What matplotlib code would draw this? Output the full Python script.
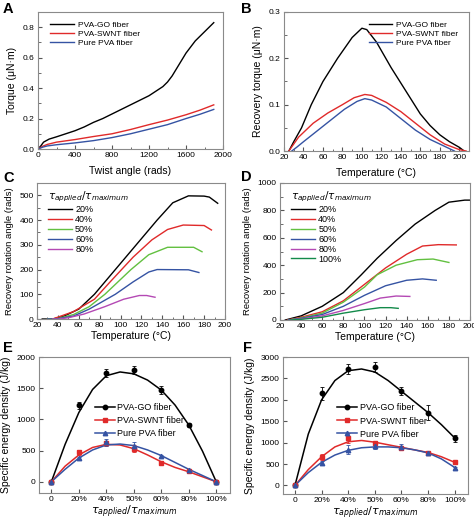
import matplotlib
matplotlib.use('Agg')
import matplotlib.pyplot as plt
from matplotlib.ticker import MultipleLocator

plt.rcParams['font.family'] = ['Liberation Sans Narrow', 'Liberation Sans', 'DejaVu Sans']
plt.rcParams['mathtext.fontset'] = 'dejavusans'

# ---- data: panel A (torque vs twist angle) ----
a_go_x = [0, 30, 60, 120, 200, 300, 400, 500, 600, 700, 800, 900, 1000, 1100, 1200, 1300, 1350, 1400, 1450, 1500, 1550, 1600, 1650, 1700, 1750, 1800, 1850, 1900]
a_go_y = [0, 0.02, 0.045, 0.065, 0.08, 0.10, 0.12, 0.145, 0.175, 0.20, 0.23, 0.26, 0.29, 0.32, 0.35, 0.39, 0.41, 0.44, 0.48, 0.53, 0.58, 0.63, 0.67, 0.71, 0.74, 0.77, 0.80, 0.83]
a_swnt_x = [0, 50, 100, 200, 400, 600, 800, 1000, 1200, 1400, 1600, 1750, 1900]
a_swnt_y = [0, 0.018, 0.03, 0.045, 0.062, 0.082, 0.10, 0.128, 0.16, 0.19, 0.225, 0.255, 0.29]
a_pure_x = [0, 50, 100, 200, 400, 600, 800, 1000, 1200, 1400, 1600, 1750, 1900]
a_pure_y = [0, 0.012, 0.02, 0.028, 0.04, 0.055, 0.075, 0.10, 0.13, 0.16, 0.20, 0.228, 0.26]

# ---- data: panel B (recovery torque vs temperature) ----
b_go_x = [25, 30, 38, 48, 60, 75, 90, 100, 105, 115, 130, 145, 160, 170, 180, 190, 200, 205]
b_go_y = [0, 0.02, 0.05, 0.10, 0.15, 0.20, 0.245, 0.265, 0.262, 0.235, 0.18, 0.13, 0.08, 0.055, 0.035, 0.02, 0.008, 0.0]
b_swnt_x = [25, 30, 35, 50, 65, 80, 92, 103, 110, 125, 140, 155, 170, 185, 200, 207]
b_swnt_y = [0, 0.015, 0.03, 0.06, 0.082, 0.10, 0.115, 0.122, 0.12, 0.105, 0.085, 0.06, 0.035, 0.015, 0.003, 0]
b_pure_x = [28, 33, 40, 55, 70, 82, 95, 103, 110, 125, 140, 155, 170, 185, 195]
b_pure_y = [0, 0.008, 0.02, 0.045, 0.07, 0.09, 0.107, 0.113, 0.11, 0.095, 0.07, 0.045, 0.025, 0.01, 0]

# ---- data: panel C (recovery rotation angle, PVA-GO low range) ----
c_labels = ['20%', '40%', '50%', '60%', '80%']
c_x = [
    [25, 35, 45, 60, 75, 95, 115, 135, 150, 165, 180, 185, 193],
    [30, 35, 55, 75, 90, 112, 130, 145, 160, 180, 187],
    [30, 38, 55, 70, 85, 110, 127, 145, 170, 178],
    [30, 38, 55, 70, 95, 112, 127, 135, 165, 175],
    [35, 40, 50, 65, 85, 103, 118, 125, 133],
]
c_y = [
    [0, 0, 10, 40, 100, 200, 300, 400, 470, 498, 497, 493, 468],
    [0, 0, 30, 80, 150, 250, 320, 362, 380, 378, 360],
    [0, 0, 18, 50, 100, 200, 260, 290, 290, 272],
    [0, 0, 12, 40, 100, 150, 190, 200, 199, 188],
    [0, 0, 5, 20, 50, 80, 95, 95, 88],
]

# ---- data: panel D ----
d_labels = ['20%', '40%', '50%', '60%', '80%', '100%']
d_x = [
    [25, 40, 60, 80, 97, 112, 130, 148, 167, 180, 195, 200],
    [27, 40, 60, 80, 100, 120, 140, 155, 170, 187],
    [28, 40, 60, 80, 100, 112, 130, 150, 165, 180],
    [28, 40, 60, 80, 100, 120, 140, 155, 168],
    [30, 40, 60, 80, 100, 115, 130, 143],
    [30, 40, 60, 80, 100, 115, 125, 132],
]
d_y = [
    [0, 30, 100, 200, 330, 450, 580, 700, 800, 860, 875, 875],
    [0, 20, 60, 140, 260, 380, 480, 540, 550, 548],
    [0, 15, 50, 130, 240, 330, 400, 440, 445, 420],
    [0, 12, 40, 100, 180, 250, 290, 300, 290],
    [0, 8, 30, 70, 120, 160, 175, 172],
    [0, 5, 20, 50, 75, 90, 90, 85],
]

# ---- data: panels E and F (specific energy density) ----
ratio_labels = ['0', '20%', '40%', '50%', '60%', '80%', '100%']
e_go = [0, 1223, 1745, 1790, 1468, 910, 0]
e_go_err = [0, 50, 60, 70, 60, 40, 0]
e_swnt = [0, 473, 617, 530, 308, 165, 0]
e_swnt_err = [0, 40, 40, 60, 20, 20, 0]
e_pure = [0, 383, 633, 575, 415, 191, 0]
e_pure_err = [0, 20, 60, 70, 20, 20, 0]
e_fit_go = [0, 600, 1110, 1480, 1700, 1760, 1730, 1630, 1470, 1230, 910, 490, 0]
e_fit_swnt = [0, 250, 430, 550, 600, 590, 530, 430, 320, 230, 160, 80, 0]
e_fit_pure = [0, 200, 380, 510, 590, 605, 580, 510, 420, 310, 200, 100, 0]

f_go = [0, 2150, 2727, 2766, 2203, 1703, 1102]
f_go_err = [0, 150, 120, 120, 90, 180, 80]
f_swnt = [0, 664, 1109, 992, 875, 758, 539]
f_swnt_err = [0, 60, 120, 50, 40, 30, 20]
f_pure = [0, 523, 836, 914, 898, 766, 414]
f_pure_err = [0, 40, 110, 60, 60, 30, 20]
f_fit_go = [0, 1200, 2000, 2450, 2680, 2720, 2650, 2450, 2200, 1950, 1700, 1420, 1110]
f_fit_swnt = [0, 370, 670, 900, 1020, 1050, 1010, 950, 890, 830, 770, 670, 540]
f_fit_pure = [0, 300, 540, 710, 820, 880, 900, 900, 880, 830, 760, 620, 420]
fit_pos = [i * 0.5 for i in range(13)]

fiber_names = ['PVA-GO fiber', 'PVA-SWNT fiber', 'Pure PVA fiber']
fiber_colors = ['black', '#e02a2a', '#3553a3']
pct_colors = ['black', '#e02a2a', '#62c040', '#3553a3', '#b449b4', '#138a4a']
ratio_label = r'$\tau_{applied}/\tau_{maximum}$'

W, H = 474, 519
fig = plt.figure(figsize=(W / 100, H / 100), dpi=100)

TICK_FS = 6
LABEL_FS = 7.5
LEG_FS = 6


def make_ax(left, top, right, bottom):
    ax = fig.add_axes([left / W, 1 - bottom / H, (right - left) / W, (bottom - top) / H])
    for s in ax.spines.values():
        s.set_color('#8a8a8a')
        s.set_linewidth(0.8)
    ax.tick_params(which='both', direction='in', labelsize=TICK_FS, color='#555555', pad=2.5)
    ax.tick_params(which='major', length=3)
    ax.tick_params(which='minor', length=1.8)
    return ax


def panel_letter(x, y, s):
    fig.text(x / W, 1 - y / H, s, fontsize=10.5, fontweight='bold', va='top', ha='left')


# A
ax = make_ax(38, 12, 223, 149)
ax.plot(a_go_x, a_go_y, color=fiber_colors[0], lw=1, label=fiber_names[0])
ax.plot(a_swnt_x, a_swnt_y, color=fiber_colors[1], lw=1, label=fiber_names[1])
ax.plot(a_pure_x, a_pure_y, color=fiber_colors[2], lw=1, label=fiber_names[2])
ax.set_xlim(0, 2000)
ax.set_ylim(0, 0.9)
ax.set_xticks([0, 400, 800, 1200, 1600, 2000])
ax.xaxis.set_minor_locator(MultipleLocator(200))
ax.set_yticks([0, 0.2, 0.4, 0.6, 0.8])
ax.set_yticklabels(['0.0', '0.2', '0.4', '0.6', '0.8'])
ax.yaxis.set_minor_locator(MultipleLocator(0.1))
ax.set_xlabel('Twist angle (rads)', fontsize=LABEL_FS, labelpad=5)
ax.set_ylabel('Torque (\u03bcN\u00b7m)', fontsize=LABEL_FS, labelpad=4)
ax.legend(loc='upper left', bbox_to_anchor=(0.04, 0.97), frameon=False, fontsize=LEG_FS,
          handlelength=2.8, labelspacing=0.15, handletextpad=0.5, borderaxespad=0.2)
panel_letter(3, 2, 'A')

# B
ax = make_ax(284, 12, 469, 151)
ax.plot(b_go_x, b_go_y, color=fiber_colors[0], lw=1, label=fiber_names[0])
ax.plot(b_swnt_x, b_swnt_y, color=fiber_colors[1], lw=1, label=fiber_names[1])
ax.plot(b_pure_x, b_pure_y, color=fiber_colors[2], lw=1, label=fiber_names[2])
ax.set_xlim(20, 210)
ax.set_ylim(0, 0.3)
ax.set_xticks(range(20, 201, 20))
ax.xaxis.set_minor_locator(MultipleLocator(10))
ax.set_yticks([0, 0.1, 0.2, 0.3])
ax.set_yticklabels(['0.0', '0.1', '0.2', '0.3'])
ax.yaxis.set_minor_locator(MultipleLocator(0.05))
ax.set_xlabel('Temperature (\u00b0C)', fontsize=LABEL_FS, labelpad=5)
ax.set_ylabel('Recovery torque (\u03bcN\u00b7m)', fontsize=LABEL_FS, labelpad=4)
ax.legend(loc='upper right', bbox_to_anchor=(0.97, 0.97), frameon=False, fontsize=LEG_FS,
          handlelength=2.8, labelspacing=0.15, handletextpad=0.5, borderaxespad=0.2)
panel_letter(241, 2, 'B')

# C
ax = make_ax(37, 183, 225, 319)
for xs, ys, lab, col in zip(c_x, c_y, c_labels, pct_colors[:5]):
    ax.plot(xs, ys, color=col, lw=1, label=lab)
ax.set_xlim(20, 200)
ax.set_ylim(0, 550)
ax.set_xticks(range(20, 201, 20))
ax.xaxis.set_minor_locator(MultipleLocator(10))
ax.set_yticks(range(0, 501, 100))
ax.yaxis.set_minor_locator(MultipleLocator(50))
ax.set_xlabel('Temperature (\u00b0C)', fontsize=LABEL_FS, labelpad=1)
ax.set_ylabel('Recovery rotation angle (rads)', fontsize=6.8, labelpad=4)
leg = ax.legend(loc='upper left', bbox_to_anchor=(0.03, 0.99), frameon=False, fontsize=LEG_FS + 0.5,
                handlelength=2.6, labelspacing=0.1, handletextpad=0.4, title=ratio_label,
                title_fontsize=7.5, borderaxespad=0.2)
leg._legend_box.align = 'left'
panel_letter(3, 171, 'C')

# D
ax = make_ax(280, 183, 470, 320)
for xs, ys, lab, col in zip(d_x, d_y, d_labels, pct_colors):
    ax.plot(xs, ys, color=col, lw=1, label=lab)
ax.set_xlim(20, 200)
ax.set_ylim(0, 1000)
ax.set_xticks(range(20, 201, 20))
ax.xaxis.set_minor_locator(MultipleLocator(10))
ax.set_yticks(range(0, 1001, 200))
ax.yaxis.set_minor_locator(MultipleLocator(100))
ax.set_xlabel('Temperature (\u00b0C)', fontsize=LABEL_FS, labelpad=1)
ax.set_ylabel('Recovery rotation angle (rads)', fontsize=6.8, labelpad=4)
leg = ax.legend(loc='upper left', bbox_to_anchor=(0.03, 0.99), frameon=False, fontsize=LEG_FS + 0.5,
                handlelength=2.6, labelspacing=0.1, handletextpad=0.4, title=ratio_label,
                title_fontsize=7.5, borderaxespad=0.2)
leg._legend_box.align = 'left'
panel_letter(241, 170, 'D')


def energy_panel(ax, series, errs, fits, ylim, ystep):
    pos = list(range(len(ratio_labels)))
    markers = ['o', 's', '^']
    for vals, err, fit, col, mk, name in zip(series, errs, fits, fiber_colors, markers, fiber_names):
        ax.plot(fit_pos, fit, color=col, lw=1.1, zorder=2)
        ax.errorbar(pos, vals, yerr=err, fmt=mk, color=col, ms=3.2, elinewidth=0.6,
                    capsize=1.5, capthick=0.6, zorder=3)
        ax.plot([], [], color=col, marker=mk, ms=3.2, lw=1.1, label=name)
    ax.set_xlim(-0.45, 6.5)
    ax.set_ylim(*ylim)
    ax.set_xticks(pos)
    ax.set_xticklabels(ratio_labels)
    ax.set_yticks(range(0, ylim[1] + 1, ystep))
    ax.set_xlabel(ratio_label, fontsize=8, labelpad=0)
    ax.set_ylabel('Specific energy density (J/kg)', fontsize=LABEL_FS, labelpad=4)
    ax.legend(loc='upper left', bbox_to_anchor=(0.25, 0.72), frameon=False, fontsize=6.5,
              handlelength=2.2, labelspacing=0.45, handletextpad=0.3)


# E
ax = make_ax(39, 357, 230, 493)
energy_panel(ax, [e_go, e_swnt, e_pure], [e_go_err, e_swnt_err, e_pure_err],
             [e_fit_go, e_fit_swnt, e_fit_pure], (-180, 2000), 500)
panel_letter(3, 341, 'E')

# F
ax = make_ax(283, 357, 468, 494)
energy_panel(ax, [f_go, f_swnt, f_pure], [f_go_err, f_swnt_err, f_pure_err],
             [f_fit_go, f_fit_swnt, f_fit_pure], (-200, 3000), 500)
panel_letter(243, 341, 'F')

fig.savefig('out.png', dpi=100)
